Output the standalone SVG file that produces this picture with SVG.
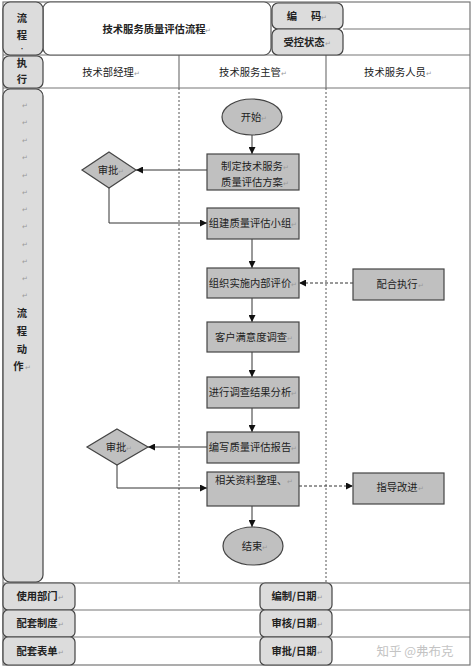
<svg xmlns="http://www.w3.org/2000/svg" width="474" height="668" viewBox="0 0 474 668">
<style>
text{font-family:"Noto Sans CJK SC","Liberation Sans",sans-serif;font-size:10.3px;fill:#222;text-anchor:middle}
.b{font-weight:bold}
.pm{fill:#9a9a9a;font-size:7px;font-weight:normal}
.lbl{fill:#dcdcdc;stroke:#444;stroke-width:1.2}
.node{fill:#c0c0c0;stroke:#444;stroke-width:1.2}
.grid{stroke:#777;stroke-width:1.2;fill:none}
.dot{stroke:#555;stroke-width:1;stroke-dasharray:2,2;fill:none}
.con{stroke:#333;stroke-width:1;fill:none}
.dash{stroke:#333;stroke-width:1;fill:none;stroke-dasharray:3,2}
</style>
<defs>
<marker id="ah" viewBox="0 0 10 10" refX="10" refY="5" markerWidth="7" markerHeight="7" markerUnits="userSpaceOnUse" orient="auto">
<path d="M0,0 L10,5 L0,10 z" fill="#111"/>
</marker>
</defs>
<rect width="474" height="668" fill="#fff"/>
<g id="frame">
<rect class="grid" x="3" y="2" width="467" height="663"/>
<line class="grid" x1="343" y1="29" x2="470" y2="29"/>
<line class="grid" x1="3" y1="55" x2="470" y2="55"/>
<line class="grid" x1="3" y1="88" x2="470" y2="88"/>
<line class="grid" x1="3" y1="583" x2="470" y2="583"/>
<line class="grid" x1="3" y1="610" x2="470" y2="610"/>
<line class="grid" x1="3" y1="637" x2="470" y2="637"/>
<line class="grid" x1="179" y1="55" x2="179" y2="88"/>
<line class="grid" x1="326" y1="55" x2="326" y2="88"/>
<line class="dot" x1="179" y1="88" x2="179" y2="583"/>
<line class="dot" x1="326" y1="88" x2="326" y2="583"/>
</g>
<g id="header">
<rect x="43" y="2" width="228" height="53" rx="7" fill="#fff" stroke="#555" stroke-width="1.2"/>
<text class="b" x="157" y="33">技术服务质量评估流程<tspan class="pm">↵</tspan></text>
<rect class="lbl" x="3" y="2" width="40" height="53" rx="7"/>
<text class="b" x="22" y="22">流</text>
<text class="b" x="22" y="39">程</text>
<text x="22" y="51" style="font-size:6px">·</text>
<rect class="lbl" x="272" y="3" width="71" height="26" rx="6"/>
<text class="b" x="307" y="20">编<tspan dx="14">码</tspan><tspan class="pm">↵</tspan></text>
<rect class="lbl" x="272" y="29" width="71" height="26" rx="6"/>
<text class="b" x="307" y="46">受控状态<tspan class="pm">↵</tspan></text>
<rect class="lbl" x="3" y="56" width="40" height="32" rx="6"/>
<text class="b" x="22" y="67">执</text>
<text class="b" x="22" y="83">行</text>
<text x="111" y="76">技术部经理<tspan class="pm">↵</tspan></text>
<text x="253" y="76">技术服务主管<tspan class="pm">↵</tspan></text>
<text x="398" y="76">技术服务人员<tspan class="pm">↵</tspan></text>
</g>
<g id="sidebar">
<rect class="lbl" x="3" y="89" width="40" height="493" rx="7"/>
<text class="pm" x="25" y="108">↵</text>
<text class="pm" x="25" y="125">↵</text>
<text class="pm" x="25" y="143">↵</text>
<text class="pm" x="25" y="160">↵</text>
<text class="pm" x="25" y="178">↵</text>
<text class="pm" x="25" y="195">↵</text>
<text class="pm" x="25" y="212">↵</text>
<text class="pm" x="25" y="229">↵</text>
<text class="pm" x="25" y="247">↵</text>
<text class="pm" x="25" y="264">↵</text>
<text class="pm" x="25" y="281">↵</text>
<text class="pm" x="25" y="298">↵</text>
<text class="b" x="22" y="317">流</text>
<text class="b" x="22" y="335">程</text>
<text class="b" x="22" y="353">动</text>
<text class="b" x="22" y="370">作<tspan class="pm" dx="1">↵</tspan></text>
</g>
<g id="connectors">
<line class="con" x1="252" y1="135" x2="252" y2="154" marker-end="url(#ah)"/>
<line class="con" x1="207" y1="170" x2="136" y2="170" marker-end="url(#ah)"/>
<polyline class="con" points="109,188 109,223 207,223" marker-end="url(#ah)"/>
<line class="con" x1="252" y1="239" x2="252" y2="268" marker-end="url(#ah)"/>
<line class="dash" x1="353" y1="283" x2="299" y2="283" marker-end="url(#ah)"/>
<line class="con" x1="252" y1="298" x2="252" y2="322" marker-end="url(#ah)"/>
<line class="con" x1="252" y1="352" x2="252" y2="377" marker-end="url(#ah)"/>
<line class="con" x1="252" y1="408" x2="252" y2="432" marker-end="url(#ah)"/>
<line class="con" x1="207" y1="447" x2="148" y2="447" marker-end="url(#ah)"/>
<polyline class="con" points="117,465 117,488 207,488" marker-end="url(#ah)"/>
<line class="dash" x1="299" y1="486" x2="353" y2="486" marker-end="url(#ah)"/>
<line class="con" x1="252" y1="506" x2="252" y2="527" marker-end="url(#ah)"/>
</g>
<g id="start"><ellipse class="node" cx="252" cy="117" rx="30" ry="18"/><text x="254" y="121">开始<tspan class="pm">↵</tspan></text></g>
<g id="n1"><rect class="node" x="207" y="154" width="92" height="36"/><text x="255" y="170">制定技术服务<tspan class="pm">↵</tspan></text><text x="255" y="186">质量评估方案<tspan class="pm">↵</tspan></text></g>
<g id="n2"><rect class="node" x="207" y="208" width="92" height="31"/><text x="253" y="227">组建质量评估小组<tspan class="pm">↵</tspan></text></g>
<g id="n3"><rect class="node" x="207" y="268" width="92" height="30"/><text x="253" y="287">组织实施内部评价<tspan class="pm">↵</tspan></text></g>
<g id="n4"><rect class="node" x="207" y="322" width="92" height="30"/><text x="254" y="341">客户满意度调查<tspan class="pm">↵</tspan></text></g>
<g id="n5"><rect class="node" x="207" y="377" width="92" height="31"/><text x="253" y="396">进行调查结果分析<tspan class="pm">↵</tspan></text></g>
<g id="n6"><rect class="node" x="207" y="432" width="92" height="31"/><text x="253" y="451">编写质量评估报告<tspan class="pm">↵</tspan></text></g>
<g id="n7"><rect class="node" x="207" y="472" width="92" height="34"/><text x="254" y="484">相关资料整理、<tspan class="pm">↵</tspan></text></g>
<g id="end"><ellipse class="node" cx="253" cy="546" rx="30" ry="19"/><text x="255" y="550">结束<tspan class="pm">↵</tspan></text></g>
<g id="n8"><rect class="node" x="353" y="269" width="91" height="31"/><text x="400" y="288">配合执行<tspan class="pm">↵</tspan></text></g>
<g id="n9"><rect class="node" x="353" y="473" width="91" height="31"/><text x="400" y="491">指导改进<tspan class="pm">↵</tspan></text></g>
<g id="d1"><polygon class="node" points="109,152 136,170 109,188 82,170"/><text x="111" y="174">审批<tspan class="pm">↵</tspan></text></g>
<g id="d2"><polygon class="node" points="117,429 148,447 117,465 87,447"/><text x="119" y="451">审批<tspan class="pm">↵</tspan></text></g>
<g id="footer">
<rect class="lbl" x="3" y="583" width="72" height="27" rx="5"/>
<text class="b" x="40" y="600">使用部门<tspan class="pm">↵</tspan></text>
<rect class="lbl" x="3" y="610" width="72" height="27" rx="5"/>
<text class="b" x="40" y="627">配套制度<tspan class="pm">↵</tspan></text>
<rect class="lbl" x="3" y="637" width="72" height="28" rx="5"/>
<text class="b" x="40" y="655">配套表单<tspan class="pm">↵</tspan></text>
<rect class="lbl" x="260" y="583" width="72" height="27" rx="5"/>
<text class="b" x="297" y="600">编制/日期<tspan class="pm">↵</tspan></text>
<rect class="lbl" x="260" y="610" width="72" height="27" rx="5"/>
<text class="b" x="297" y="627">审核/日期<tspan class="pm">↵</tspan></text>
<rect class="lbl" x="260" y="637" width="72" height="28" rx="5"/>
<text class="b" x="297" y="655">审批/日期<tspan class="pm">↵</tspan></text>
<text x="415" y="656" style="fill:#c4c4c4;font-size:12.5px">知乎 @弗布克</text>
</g>
</svg>
